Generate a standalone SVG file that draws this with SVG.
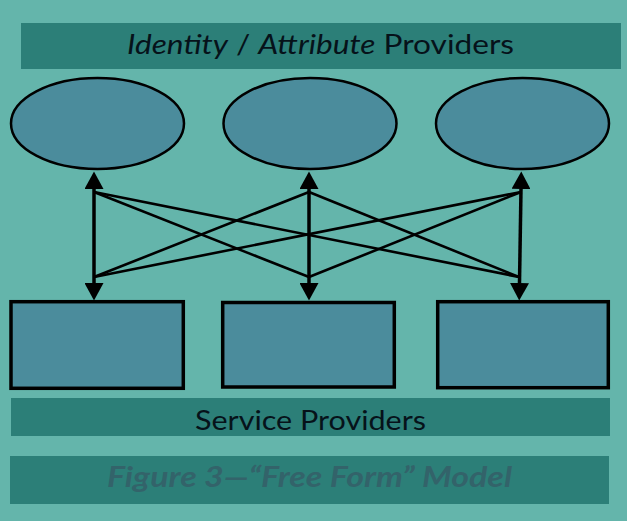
<svg xmlns="http://www.w3.org/2000/svg" width="627" height="521" viewBox="0 0 627 521">
<style>
.banner{fill:#2c7f78}
.node{fill:#4b8c9c;stroke:#000}
.ell{stroke-width:2.5}
.box{stroke-width:3.5}
.lbl{font-family:Lato,"Open Sans","Liberation Sans",sans-serif;font-size:27px;fill:#06121a;text-anchor:middle}
.fig{font-family:Lato,"Open Sans","Liberation Sans",sans-serif;font-size:29px;font-weight:bold;font-style:italic;fill:#33636a;text-anchor:middle}
.v{stroke:#000;stroke-width:3.5;fill:none}
.d{stroke:#000;stroke-width:2.6;fill:none}
</style>
<defs>
<marker id="ah" markerUnits="userSpaceOnUse" markerWidth="19" markerHeight="19" refX="0" refY="9.5" orient="auto-start-reverse" viewBox="0 0 19 19">
<path d="M0,0 L17.5,9.5 L0,19 z" fill="#000"/>
</marker>
</defs>
<rect width="627" height="521" fill="#64b5ab"/>
<g id="idp-banner">
<rect class="banner" x="21" y="23" width="600" height="46"/>
<text class="lbl" x="320.5" y="54" textLength="387" lengthAdjust="spacingAndGlyphs"><tspan font-style="italic">Identity</tspan> / <tspan font-style="italic">Attribute</tspan> Providers</text>
</g>
<g id="idp1"><ellipse class="node ell" cx="97.5" cy="123.5" rx="86.5" ry="45.5"/></g>
<g id="idp2"><ellipse class="node ell" cx="310" cy="123.5" rx="86.5" ry="45.5"/></g>
<g id="idp3"><ellipse class="node ell" cx="522.5" cy="123.5" rx="86.5" ry="45.5"/></g>
<g id="sp1"><rect class="node box" x="11" y="301.7" width="172.3" height="86.6"/></g>
<g id="sp2"><rect class="node box" x="222.7" y="302.5" width="171.6" height="84.5"/></g>
<g id="sp3"><rect class="node box" x="437.7" y="301.7" width="170.6" height="86"/></g>
<g id="sp-banner">
<rect class="banner" x="11" y="398" width="599" height="38"/>
<text class="lbl" x="310.5" y="430" font-size="28" textLength="231" lengthAdjust="spacingAndGlyphs">Service Providers</text>
</g>
<g id="caption">
<rect class="banner" x="10" y="456" width="599" height="48"/>
<text class="fig" x="309.5" y="487" textLength="405" lengthAdjust="spacingAndGlyphs">Figure 3—“Free Form” Model</text>
</g>
<g id="connectors">
<line class="v" x1="94" y1="189" x2="94" y2="283" marker-start="url(#ah)" marker-end="url(#ah)"/>
<line class="v" x1="309" y1="189" x2="309" y2="283" marker-start="url(#ah)" marker-end="url(#ah)"/>
<line class="v" x1="521" y1="189" x2="519.5" y2="283" marker-start="url(#ah)" marker-end="url(#ah)"/>
<line class="d" x1="94" y1="192" x2="309" y2="277"/>
<line class="d" x1="94" y1="192" x2="519" y2="277"/>
<line class="d" x1="309" y1="192" x2="94" y2="277"/>
<line class="d" x1="309" y1="192" x2="519" y2="277"/>
<line class="d" x1="521" y1="192" x2="94" y2="277"/>
<line class="d" x1="521" y1="192" x2="309" y2="277"/>
</g>
</svg>
